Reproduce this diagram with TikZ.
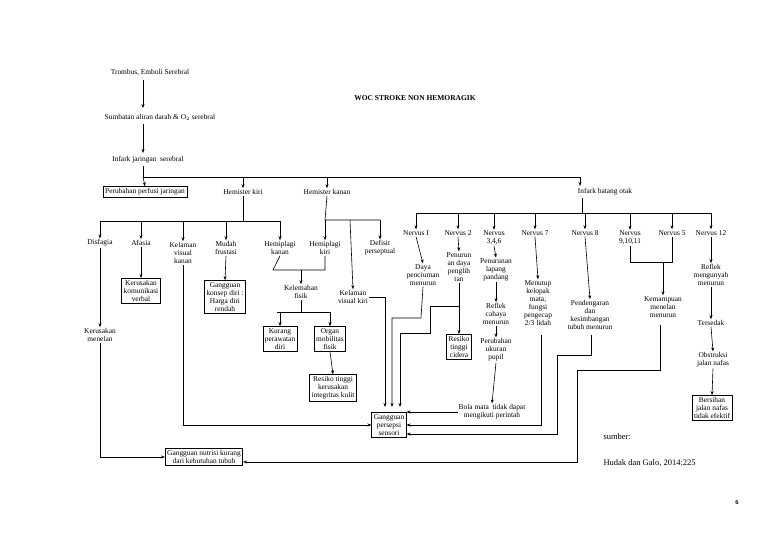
\documentclass[tikz,border=0pt]{standalone}
\usepackage{fontspec}
\setmainfont{Liberation Serif}
\usetikzlibrary{arrows.meta}
\begin{document}
\begin{tikzpicture}[x=1pt,y=-1pt,
  t/.style={font=\fontsize{7.4}{8}\selectfont,align=center,inner sep=1pt},
  b/.style={t,draw,line width=0.6pt,inner sep=2pt},
  a/.style={-{Stealth[length=4pt,width=3pt]},line width=0.6pt},
  l/.style={line width=0.6pt}]
\useasboundingbox (0,0) rectangle (768,543);
\fill[white] (0,0) rectangle (768,543);
\node[font=\fontsize{7.5}{8}\selectfont\bfseries] (title) at (415,98) {WOC STROKE NON HEMORAGIK};
\node[t] (tromb) at (150,73) {Trombus, Emboli Serebral};
\node[t] (sumb) at (160,117) {Sumbatan aliran darah \& O$_2$ serebral};
\node[t] (infj) at (148,160) {Infark jaringan \ serebral};
\draw[a] (143,80) -- (143,108);
\draw[a] (143,124) -- (143,153);
\coordinate (j0) at (143,177);
\draw[l] (143,166) -- (j0) -- (580,177);
\node[b] (perf) at (145,192) {Perubahan perfusi jaringan};
\node[t] (hki) at (243,192) {Hemister kiri};
\node[t] (hka) at (327,192) {Hemister kanan};
\node[t] (ibo) at (605,192) {Infark batang otak};
\draw[a] (143,177) -- (perf.north);
\draw[a] (243,177) -- (hki.north);
\draw[a] (327,177) -- (hka.north);
\draw[a] (580,177) -- (580,186);
% hemister kiri
\node[t] (dis) at (100,243) {Disfagia};
\node[t] (afa) at (141,243) {Afasia};
\node[t] (kvk) at (183,253) {Kelaman\\visual\\kanan};
\node[t] (muf) at (226,248) {Mudah\\frustasi};
\node[t] (hpka) at (280,248) {Hemiplagi\\kanan};
\draw[l] (hki.south) -- (243,221);
\draw[l] (100,221) -- (280,221);
\foreach \n/\x in {dis/100,afa/141,kvk/183,muf/226,hpka/280} \draw[a] (\x,221) -- (\n.north);
% hemister kanan
\node[t] (hpki) at (325,248) {Hemiplagi\\kiri};
\node[t] (defp) at (380,248) {Defisit\\perseptual};
\node[t] (kvki) at (353,297) {Kelaman\\visual kiri};
\draw[l] (hka.south) -- (325,220) -- (380,220);
\draw[a] (325,220) -- (hpki.north);
\draw[a] (380,220) -- (defp.north);
\draw[a] (350,220) -- (kvki.north);
\node[b] (kkv) at (141,291) {Kerusakan\\komunikasi\\verbal};
\draw[a] (afa.south) -- (kkv.north);
\node[b] (gkd) at (225,297) {Gangguan\\konsep diri :\\Harga diri\\rendah};
\draw[a] (muf.south) -- (gkd.north);
\node[t] (kf) at (301,292) {Kelemahan\\fisik};
\draw[l] (hpka.south) -- (273,270) -- (325,270) -- (hpki.south);
\draw[a] (301,270) -- (kf.north);
\node[b] (kpd) at (280,339) {Kurang\\perawatan\\diri};
\node[b] (omf) at (330,339) {Organ\\mobilitas\\fisik};
\draw[l] (kf.south) -- (301,312);
\draw[l] (277,312) -- (330,312);
\draw[a] (280,312) -- (kpd.north);
\draw[a] (330,312) -- (omf.north);
\node[b] (rtk) at (333,388) {Resiko tinggi\\kerusakan\\integritas kulit};
\draw[a] (omf.south) -- (rtk.north);
\node[b] (gps) at (389,425) {Gangguan\\persepsi\\sensori};
\node[b] (gnk) at (204,457) {Gangguan nutrisi kurang\\dari kebutuhan tubuh};
\node[t] (kmn) at (100,335) {Kerusakan\\menelan};
\draw[a] (dis.south) -- (kmn.north);
\draw[a] (kmn.south) |- (gnk.west);
\draw[a] (kvk.south) |- (gps.west);
\draw[a] (kvki.east) -- (385,297) -- (385,407);
% batang otak
\draw[l] (582,198) -- (582,213);
\draw[l] (416,213) -- (711,213);
\node[t] (n1) at (416,233) {Nervus I};
\node[t] (n2) at (458,233) {Nervus 2};
\node[t] (n3) at (494,238) {Nervus\\3,4,6};
\node[t] (n7) at (535,233) {Nervus 7};
\node[t] (n8) at (585,233) {Nervus 8};
\node[t] (n9) at (630,238) {Nervus\\9,10,11};
\node[t] (n5) at (672,233) {Nervus 5};
\node[t] (n12) at (711,233) {Nervus 12};
\foreach \n/\x in {n1/416,n2/458,n3/494,n7/535,n8/585,n9/630,n5/672,n12/711} \draw[a] (\x,213) -- (\n.north);
\node[t] (dpm) at (423,275) {Daya\\penciuman\\menurun};
\draw[a] (n1.south) -- (dpm.north);
\node[t] (pdp) at (459,267) {Penurun\\an daya\\penglih\\tan};
\draw[a] (n2.south) -- (pdp.north);
\node[b] (rtc) at (459,347) {Resiko\\tinggi\\cidera};
\draw[a] (pdp.south) -- (rtc.north);
\draw[a] (dpm.south) -- (421,318) -- (392,318) -- (392,407);
\draw[a] (459,306) -- (430,306) -- (430,333) -- (400,333) -- (400,407);
\node[t] (plp) at (496,270) {Penurunan\\lapang\\pandang};
\draw[a] (n3.south) -- (plp.north);
\node[t] (rcm) at (496,314) {Reflek\\cahaya\\menurun};
\draw[a] (plp.south) -- (rcm.north);
\node[t] (pup) at (496,350) {Perubahan\\ukuran\\pupil};
\draw[a] (rcm.south) -- (pup.north);
\node[t] (bmt) at (492,412) {Bola mata \ tidak dapat\\mengikuti perintah};
\draw[a] (pup.south) -- (bmt.north);
\draw[a] (bmt.west) -- (gps.east |- bmt.west);
\node[t] (mkm) at (538,303) {Menutup\\kelopak\\mata,\\fungsi\\pengecap\\2/3 lidah};
\draw[a] (n7.south) -- (mkm.north);
\draw[a] (541,335) -- (541,425) -- (gps.east |- 0,425);
\node[t] (pdk) at (590,315) {Pendengaran\\dan\\kesimbangan\\tubuh menurun};
\draw[a] (n8.south) -- (pdk.north);
\draw[a] (591,335) -- (591,355) -- (557,355) -- (557,434) -- (gps.east |- 0,434);
\node[t] (kmm) at (663,307) {Kemampuan\\menelan\\menurun};
\draw[l] (n9.south) -- (630,262) -- (672,262) -- (n5.south);
\draw[a] (663,262) -- (kmm.north);
\draw[a] (660,325) -- (660,370) -- (577,370) -- (577,462) -- (gnk.east |- 0,462);
\node[t] (rmm) at (711,275) {Reflek\\mengunyah\\menurun};
\draw[a] (n12.south) -- (rmm.north);
\node[t] (ted) at (711,323) {Tersedak};
\draw[a] (rmm.south) -- (ted.north);
\node[t] (ojn) at (713,360) {Obstruksi\\jalan nafas};
\draw[a] (ted.south) -- (ojn.north);
\node[b] (bjn) at (712,408) {Bersihan\\jalan nafas\\tidak efektif};
\draw[a] (ojn.south) -- (bjn.north);
\node[font=\fontsize{8.5}{9}\selectfont,anchor=west] (smb) at (600,437) {sumber:};
\node[font=\fontsize{8.5}{9}\selectfont,anchor=west] (hud) at (600,463) {Hudak dan Galo, 2014:225};
\node[font=\fontsize{6.5}{7}\selectfont\bfseries] (pg) at (737,502) {6};
\end{tikzpicture}
\end{document}
